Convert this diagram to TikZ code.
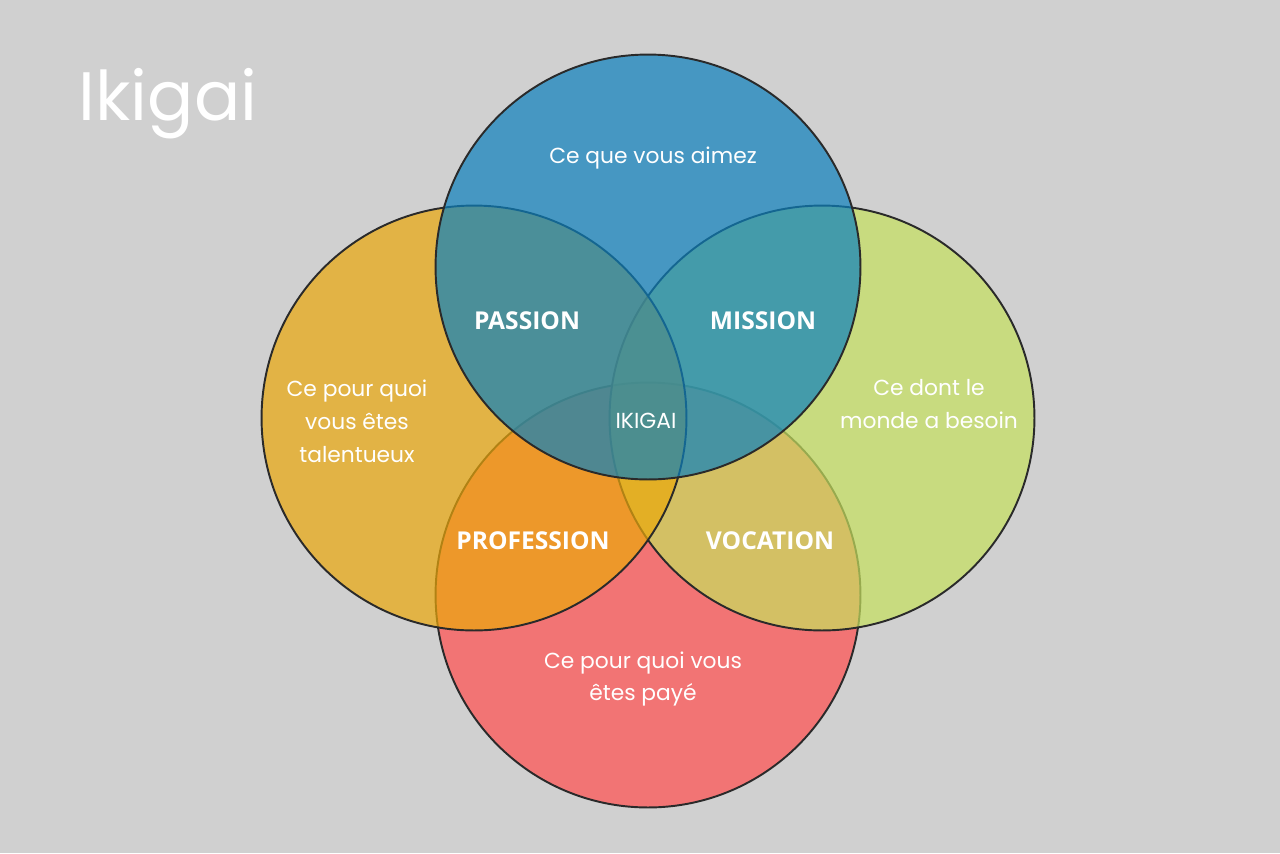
\documentclass[tikz,border=0pt]{standalone}
\usepackage{fontspec}
\setmainfont{Poppins}
\newfontfamily\motfont{Open Sans}

\definecolor{fond}{RGB}{208,208,208}
\definecolor{cbleu}{RGB}{12,128,189}
\definecolor{cjaune}{RGB}{235,168,11}
\definecolor{cvert}{RGB}{198,225,94}
\definecolor{crouge}{RGB}{242,116,116}
\definecolor{trait}{RGB}{42,42,42}

\tikzset{
  cercle/.style={circle, draw=trait, line width=1.1pt, minimum size=8.5cm, inner sep=0pt},
  texte/.style={text=white, align=center, font=\fontsize{12.4}{18.7}\selectfont},
  motcle/.style={text=white, font=\motfont\bfseries\fontsize{14}{16}\selectfont}
}

\begin{document}
\begin{tikzpicture}[x=0.02cm, y=-0.02cm]
    \fill[fond] (0,0) rectangle (1280,853);
    % les quatre cercles, du dessous au dessus
    \foreach \nom/\x/\y/\c/\o in {
        paye/648/595/crouge/1,
        monde/822/418/cvert/0.7,
        talent/474/418/cjaune/0.7,
        aime/648/267/cbleu/0.7}{
      \node[cercle, fill=\c, fill opacity=\o] (\nom) at (\x,\y) {};
    }

    \node[text=white, font=\fontsize{39}{39}\selectfont] (titre) at (168,104) {Ikigai};

    \node[texte] (aimez) at (653,158) {Ce que vous aimez};
    \node[texte] (talentueux) at (357,421) {Ce pour quoi\\vous êtes\\talentueux};
    \node[texte] (besoin) at (929,404) {Ce dont le\\monde a besoin};
    \node[texte] (payeur) at (643,679) {Ce pour quoi vous\\êtes payé};
    \node[texte] (centre) at (646,421) {IKIGAI};

    \node[motcle] (passion) at (527,321) {PASSION};
    \node[motcle] (mission) at (763,321) {MISSION};
    \node[motcle] (profession) at (533,541) {PROFESSION};
    \node[motcle] (vocation) at (770,541) {VOCATION};
\end{tikzpicture}
\end{document}
